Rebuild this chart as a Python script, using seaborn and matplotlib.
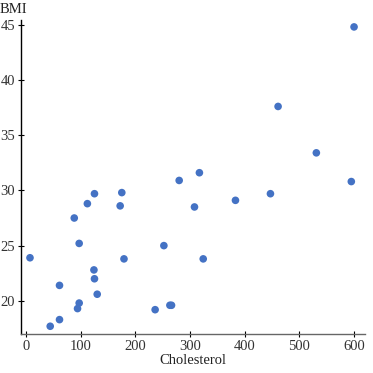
import matplotlib
matplotlib.use("Agg")
import matplotlib.pyplot as plt
import seaborn as sns
import pandas as pd

cholesterol = [600, 461, 531, 595, 317, 280, 447, 383, 308, 175, 125, 112, 172, 88, 97, 252,
               7, 179, 324, 124, 61, 125, 130, 97, 94, 263, 266, 236, 61, 44]
bmi = [44.8, 37.6, 33.4, 30.8, 31.6, 30.9, 29.7, 29.1, 28.5, 29.8, 29.7, 28.8, 28.6, 27.5, 25.2, 25.0,
       23.9, 23.8, 23.8, 22.8, 21.4, 22.0, 20.6, 19.8, 19.3, 19.6, 19.6, 19.2, 18.3, 17.7]

df = pd.DataFrame({"Cholesterol": cholesterol, "BMI": bmi})

sns.set_theme(style="white")
plt.rcParams["font.family"] = ["Liberation Serif", "DejaVu Serif"]

fig = plt.figure(figsize=(3.73, 3.73), dpi=100)
ax = fig.add_axes([0.0555, 0.1046, 0.923, 0.841])
sns.scatterplot(data=df, x="Cholesterol", y="BMI", ax=ax, color="#4472C4",
                s=30, edgecolor="none", linewidth=0)

ax.set_xlim(-10, 620)
ax.set_ylim(17.0, 45.4)
ax.set_xticks([0, 100, 200, 300, 400, 500, 600])
ax.set_yticks([20, 25, 30, 35, 40, 45])
ax.tick_params(axis="both", direction="inout", length=4, width=0.8, color="black",
               labelsize=10.5, labelcolor="#333333", pad=2, bottom=True, left=True)
for s in ["top", "right"]:
    ax.spines[s].set_visible(False)
ax.spines["left"].set_color("black")
ax.spines["left"].set_linewidth(1.0)
ax.spines["bottom"].set_color("#666666")
ax.spines["bottom"].set_linewidth(1.0)

ax.set_xlabel("Cholesterol", fontsize=10.5, color="#222222", labelpad=1)
ax.set_ylabel("")
fig.text(0.0, 0.975, "BMI", fontsize=10.5, color="#222222", ha="left", va="center")

fig.savefig("out.png", dpi=100)
